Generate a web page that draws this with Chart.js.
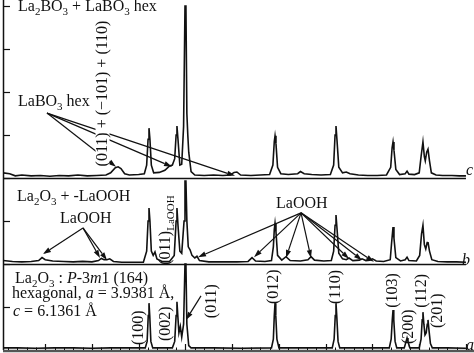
<!DOCTYPE html>
<html><head><meta charset="utf-8">
<script src="https://cdn.jsdelivr.net/npm/chart.js@4.4.0/dist/chart.umd.min.js"></script>
<style>html,body{margin:0;padding:0;background:#fff;overflow:hidden}#wrap{width:474px;height:353px;position:relative}</style>
</head><body><div id="wrap"><canvas id="cv"></canvas></div>
<script>
// ---- axis ranges (2θ in degrees, stacked intensity in arbitrary units) ----
const thetaRange = [10.485, 60.86];
const intensityRange = [0, 8.14];
const panelOffsets = { a: 0, b: 2, c: 4 };
const panelLineEnd = 60;
const yTicks = [1, 2, 3, 4, 5, 6, 7, 8];
const xMajorTicks = [15, 20, 25, 30, 35, 40, 45, 50, 55, 60];
const xMinorTicks = [11,12,13,14,16,17,18,19,21,22,23,24,26,27,28,29,31,32,33,34,36,37,38,39,41,42,43,44,46,47,48,49,51,52,53,54,56,57,58,59];

// ---- pattern c : La2BO3 + LaBO3 hex  [2θ, intensity above panel line] ----
const patternC = [[10.5,0.12],[11.2,0.1],[11.8,0.05],[12.5,0.07],[13.5,0.05],[14.5,0.06],[15.5,0.04],[16.5,0.06],[17.5,0.05],[18.5,0.07],[19.5,0.05],[20.5,0.06],[21.5,0.07],[22.0,0.12],[22.5,0.24],[22.8,0.26],[23.1,0.22],[23.5,0.1],[24.0,0.07],[25.0,0.08],[25.6,0.1],[25.85,0.3],[26.0,0.9],[26.1,1.16],[26.2,0.9],[26.35,0.3],[26.6,0.12],[27.2,0.13],[27.8,0.18],[28.3,0.28],[28.6,0.3],[28.85,0.45],[29.0,1.0],[29.09,1.21],[29.2,0.9],[29.4,0.3],[29.6,0.32],[29.8,1.2],[29.95,4.0],[30.05,4.0],[30.15,1.5],[30.25,1.0],[30.35,0.6],[30.6,0.15],[31.0,0.07],[32,0.06],[33,0.07],[34,0.06],[34.8,0.07],[35.2,0.13],[35.5,0.14],[35.9,0.07],[37,0.06],[38,0.07],[39.0,0.08],[39.35,0.3],[39.5,0.85],[39.58,0.98],[39.68,0.8],[39.85,0.25],[40.2,0.1],[41,0.08],[42.0,0.1],[42.3,0.15],[42.7,0.1],[43.5,0.08],[44.5,0.07],[45.5,0.08],[45.85,0.3],[46.0,1.0],[46.1,1.21],[46.2,0.9],[46.4,0.25],[46.8,0.12],[47.2,0.14],[47.6,0.1],[48.5,0.07],[49.5,0.06],[50.5,0.06],[51.5,0.07],[51.95,0.25],[52.1,0.7],[52.2,0.84],[52.3,0.65],[52.5,0.2],[52.9,0.08],[53.5,0.1],[53.7,0.16],[53.9,0.09],[54.5,0.08],[55.0,0.12],[55.2,0.5],[55.4,0.84],[55.55,0.5],[55.65,0.4],[55.8,0.6],[55.94,0.67],[56.1,0.4],[56.3,0.12],[56.8,0.07],[57.5,0.06],[58.5,0.06],[59.3,0.05],[60,0.05]];

// ---- pattern b : La2O3 + LaOOH ----
const patternB = [[10.5,0.08],[11.5,0.06],[12.5,0.05],[13.5,0.06],[14.3,0.08],[14.66,0.15],[15.0,0.1],[15.8,0.07],[17,0.06],[18,0.05],[19,0.06],[20,0.05],[20.7,0.08],[21.0,0.13],[21.3,0.1],[21.6,0.1],[21.9,0.12],[22.3,0.06],[23.2,0.04],[24.5,0.04],[25.5,0.04],[25.85,0.3],[26.0,1.0],[26.1,1.3],[26.2,1.0],[26.35,0.3],[26.55,0.2],[26.74,0.28],[26.95,0.12],[27.5,0.06],[28.3,0.06],[28.8,0.2],[29.0,1.0],[29.09,1.3],[29.2,0.9],[29.4,0.3],[29.6,0.25],[29.85,1.0],[29.95,1.93],[30.05,1.93],[30.15,1.0],[30.3,0.4],[30.49,0.33],[30.7,0.2],[31.0,0.14],[31.23,0.18],[31.5,0.08],[32.5,0.05],[34,0.05],[35.5,0.05],[36.7,0.06],[37.12,0.15],[37.5,0.07],[38.5,0.06],[39.2,0.08],[39.4,0.4],[39.5,0.8],[39.58,0.95],[39.68,0.75],[39.85,0.2],[40.3,0.09],[40.75,0.17],[41.2,0.08],[42.3,0.07],[43.1,0.1],[43.43,0.17],[43.8,0.09],[44.8,0.07],[45.6,0.08],[45.85,0.3],[46.0,0.9],[46.1,1.14],[46.2,0.85],[46.4,0.25],[46.8,0.12],[47.2,0.1],[47.49,0.14],[47.9,0.08],[48.6,0.09],[48.88,0.12],[49.3,0.08],[49.7,0.09],[50.0,0.12],[50.4,0.07],[51.2,0.06],[51.9,0.1],[52.05,0.5],[52.2,0.86],[52.3,0.6],[52.5,0.15],[53.0,0.07],[53.5,0.1],[53.7,0.16],[53.9,0.08],[54.7,0.07],[55.05,0.2],[55.25,0.7],[55.4,0.9],[55.55,0.45],[55.7,0.35],[55.85,0.5],[55.94,0.51],[56.1,0.3],[56.35,0.1],[57,0.06],[58,0.05],[59,0.05],[60,0.04]];

// ---- pattern a : La2O3 hexagonal ----
const patternA = [[10.5,0.05],[12,0.05],[14,0.04],[16,0.05],[18,0.05],[20,0.04],[22,0.05],[24,0.05],[25.7,0.05],[25.9,0.2],[26.02,0.8],[26.1,1.09],[26.18,0.8],[26.3,0.2],[26.5,0.05],[28.6,0.05],[28.85,0.2],[29.0,0.8],[29.09,1.12],[29.18,0.8],[29.3,0.4],[29.45,0.55],[29.6,0.3],[29.8,0.6],[29.95,2.0],[30.05,2.0],[30.15,0.6],[30.35,0.1],[30.6,0.05],[33,0.05],[36,0.04],[39.2,0.05],[39.4,0.25],[39.5,0.8],[39.58,1.09],[39.66,0.8],[39.78,0.25],[40.0,0.05],[45.7,0.05],[45.9,0.25],[46.02,0.8],[46.1,1.09],[46.18,0.8],[46.32,0.2],[46.5,0.05],[51.8,0.05],[52.0,0.25],[52.12,0.7],[52.2,0.93],[52.28,0.7],[52.42,0.2],[52.6,0.05],[53.4,0.05],[53.6,0.2],[53.7,0.28],[53.8,0.2],[54.0,0.05],[55.0,0.05],[55.2,0.25],[55.32,0.7],[55.4,0.88],[55.5,0.6],[55.62,0.35],[55.75,0.4],[55.86,0.6],[55.94,0.7],[56.05,0.45],[56.2,0.15],[56.4,0.05],[58,0.05],[60,0.04]];

// ---- hkl labels of La2O3 (pattern a) : text, 2θ of label centre, intensity at label bottom ----
const hklLabels = [["(100)",25.03,0.116],["(002)",27.92,0.21],["(011)",32.84,0.74],["(012)",39.47,1.07],["(110)",46.1,1.07],["(103)",52.2,0.98],["(200)",53.9,0.14],["(112)",55.3,0.98],["(201)",57.0,0.51]];

// ---- arrows: origin then tips, in (2θ, intensity) ----
const arrowGroups = [
  { from: [15.19, 5.51], to: [[22.57, 4.26], [28.56, 4.26], [35.3, 4.05]] },
  { from: [19.04, 2.84], to: [[14.76, 2.23], [20.86, 2.14], [21.61, 2.09]] },
  { from: [42.36, 3.19], to: [[31.34, 2.16], [37.33, 2.16], [40.75, 2.14], [43.43, 2.14], [47.49, 2.12], [48.88, 2.09], [50.16, 2.05]] },
  { from: [31.66, 1.26], to: [[30.06, 0.70]] }
];

const FONT = '"Liberation Serif","Times New Roman",serif';
const INK = '#111';

function toXY(pattern, off) { return pattern.map(p => ({ x: p[0], y: p[1] + off })); }

function drawRich(ctx, x, y, segs, size, rotated, baseline) {
  ctx.save();
  ctx.translate(x, y);
  if (rotated) ctx.rotate(-Math.PI / 2);
  ctx.textBaseline = baseline || 'alphabetic';
  ctx.textAlign = 'left';
  ctx.fillStyle = INK;
  let cx = 0;
  for (const [t, st] of segs) {
    const sub = st === 'sub';
    const it = st === 'i';
    ctx.font = (it ? 'italic ' : '') + (sub ? Math.round(size * 0.7) : size) + 'px ' + FONT;
    ctx.fillText(t, cx, sub ? size * 0.27 : 0);
    cx += ctx.measureText(t).width;
  }
  ctx.restore();
  return cx;
}
function richWidth(ctx, segs, size) {
  let w = 0;
  for (const [t, st] of segs) {
    ctx.font = (st === 'i' ? 'italic ' : '') + (st === 'sub' ? Math.round(size * 0.7) : size) + 'px ' + FONT;
    w += ctx.measureText(t).width;
  }
  return w;
}

const framePlugin = {
  id: 'frame',
  beforeDatasetsDraw(chart) {
    const { ctx, chartArea: ca, scales: { x, y } } = chart;
    ctx.save();
    ctx.strokeStyle = INK;
    ctx.lineWidth = 1.5;
    [panelOffsets.b, panelOffsets.c].forEach(v => {
      const py = Math.round(y.getPixelForValue(v)) + 0.5;
      ctx.beginPath(); ctx.moveTo(ca.left, py); ctx.lineTo(x.getPixelForValue(panelLineEnd), py); ctx.stroke();
    });
    ctx.lineWidth = 1.5;
    ctx.beginPath(); ctx.moveTo(ca.left + 0.5, 0); ctx.lineTo(ca.left + 0.5, ca.bottom); ctx.stroke();
    ctx.lineWidth = 1.2;
    yTicks.forEach(v => {
      const py = Math.round(y.getPixelForValue(v)) + 0.5;
      ctx.beginPath(); ctx.moveTo(ca.left, py); ctx.lineTo(ca.left + 7, py); ctx.stroke();
    });
    ctx.strokeStyle = '#555';
    ctx.lineWidth = 2.5;
    ctx.beginPath(); ctx.moveTo(ca.left, ca.bottom + 1); ctx.lineTo(ca.right, ca.bottom + 1); ctx.stroke();
    ctx.strokeStyle = INK;
    ctx.lineWidth = 1.2;
    xMajorTicks.forEach(t => {
      const px = Math.round(x.getPixelForValue(t)) + 0.5;
      ctx.beginPath(); ctx.moveTo(px, ca.bottom); ctx.lineTo(px, ca.bottom - 6); ctx.stroke();
    });
    ctx.lineWidth = 1;
    xMinorTicks.forEach(t => {
      const px = Math.round(x.getPixelForValue(t)) + 0.5;
      ctx.beginPath(); ctx.moveTo(px, ca.bottom); ctx.lineTo(px, ca.bottom - 2.5); ctx.stroke();
    });
    ctx.restore();
  },
  afterDatasetsDraw(chart) {
    const { ctx, scales: { x, y } } = chart;
    const S = 16;
    ctx.save();
    ctx.strokeStyle = INK; ctx.fillStyle = INK; ctx.lineWidth = 1.2;
    arrowGroups.forEach(g => {
      const ox = x.getPixelForValue(g.from[0]), oy = y.getPixelForValue(g.from[1]);
      g.to.forEach(t => {
        const tx = x.getPixelForValue(t[0]), ty = y.getPixelForValue(t[1]);
        const ang = Math.atan2(ty - oy, tx - ox);
        const L = 8, W = 2.6;
        const bx = tx - L * Math.cos(ang), by = ty - L * Math.sin(ang);
        ctx.beginPath(); ctx.moveTo(ox, oy); ctx.lineTo(bx, by); ctx.stroke();
        ctx.beginPath();
        ctx.moveTo(tx, ty);
        ctx.lineTo(bx + W * Math.sin(ang), by - W * Math.cos(ang));
        ctx.lineTo(bx - W * Math.sin(ang), by + W * Math.cos(ang));
        ctx.closePath(); ctx.fill();
      });
    });
    // rotated label in panel c, with white background (breaks the arrows)
    const segC = [["(011) + (\u2212101) + (110)", 'n']];
    const wC = richWidth(ctx, segC, S);
    const lxC = x.getPixelForValue(21.13), lyC = y.getPixelForValue(4.27);
    ctx.fillStyle = '#fff';
    ctx.fillRect(lxC - 7, lyC - wC, 14, wC);
    drawRich(ctx, lxC, lyC, segC, S, true, 'middle');
    drawRich(ctx, x.getPixelForValue(27.95), y.getPixelForValue(1.98), [["(011)", 'n'], ["LaOOH", 'sub']], S, true, 'middle');
    hklLabels.forEach(l => {
      drawRich(ctx, x.getPixelForValue(l[1]), y.getPixelForValue(l[2]), [[l[0], 'n']], S, true, 'middle');
    });
    drawRich(ctx, 18, 11, [["La", 'n'], ["2", 'sub'], ["BO", 'n'], ["3", 'sub'], [" + LaBO", 'n'], ["3", 'sub'], [" hex", 'n']], S);
    drawRich(ctx, 18, 106, [["LaBO", 'n'], ["3", 'sub'], [" hex", 'n']], S);
    drawRich(ctx, 17, 201, [["La", 'n'], ["2", 'sub'], ["O", 'n'], ["3", 'sub'], [" + -LaOOH", 'n']], S);
    drawRich(ctx, 60, 223, [["LaOOH", 'n']], S);
    drawRich(ctx, 276, 208, [["LaOOH", 'n']], S);
    drawRich(ctx, 15, 283, [["La", 'n'], ["2", 'sub'], ["O", 'n'], ["3", 'sub'], [" : ", 'n'], ["P", 'i'], ["-3", 'n'], ["m", 'i'], ["1 (164)", 'n']], S);
    drawRich(ctx, 12, 298, [["hexagonal, ", 'n'], ["a", 'i'], [" = 3.9381 \u00C5,", 'n']], S);
    drawRich(ctx, 13, 316, [["c", 'i'], [" = 6.1361 \u00C5", 'n']], S);
    drawRich(ctx, 466, 175, [["c", 'i']], S);
    drawRich(ctx, 462, 265, [["b", 'i']], S);
    drawRich(ctx, 466, 350, [["a", 'i']], S);
    ctx.restore();
  }
};

const lineStyle = { borderColor: INK, borderWidth: 1.6, pointRadius: 0, showLine: true, tension: 0, fill: false };

new Chart(document.getElementById('cv'), {
  type: 'scatter',
  data: {
    datasets: [
      Object.assign({ label: 'c', data: toXY(patternC, panelOffsets.c) }, lineStyle),
      Object.assign({ label: 'b', data: toXY(patternB, panelOffsets.b) }, lineStyle),
      Object.assign({ label: 'a', data: toXY(patternA, panelOffsets.a) }, lineStyle)
    ]
  },
  options: {
    responsive: true,
    maintainAspectRatio: false,
    animation: false,
    layout: { padding: { left: 3, right: 0, top: 0, bottom: 3 } },
    plugins: { legend: { display: false }, tooltip: { enabled: false } },
    scales: {
      x: { type: 'linear', min: thetaRange[0], max: thetaRange[1], display: false },
      y: { type: 'linear', min: intensityRange[0], max: intensityRange[1], display: false }
    }
  },
  plugins: [framePlugin]
});
</script>
</body></html>
